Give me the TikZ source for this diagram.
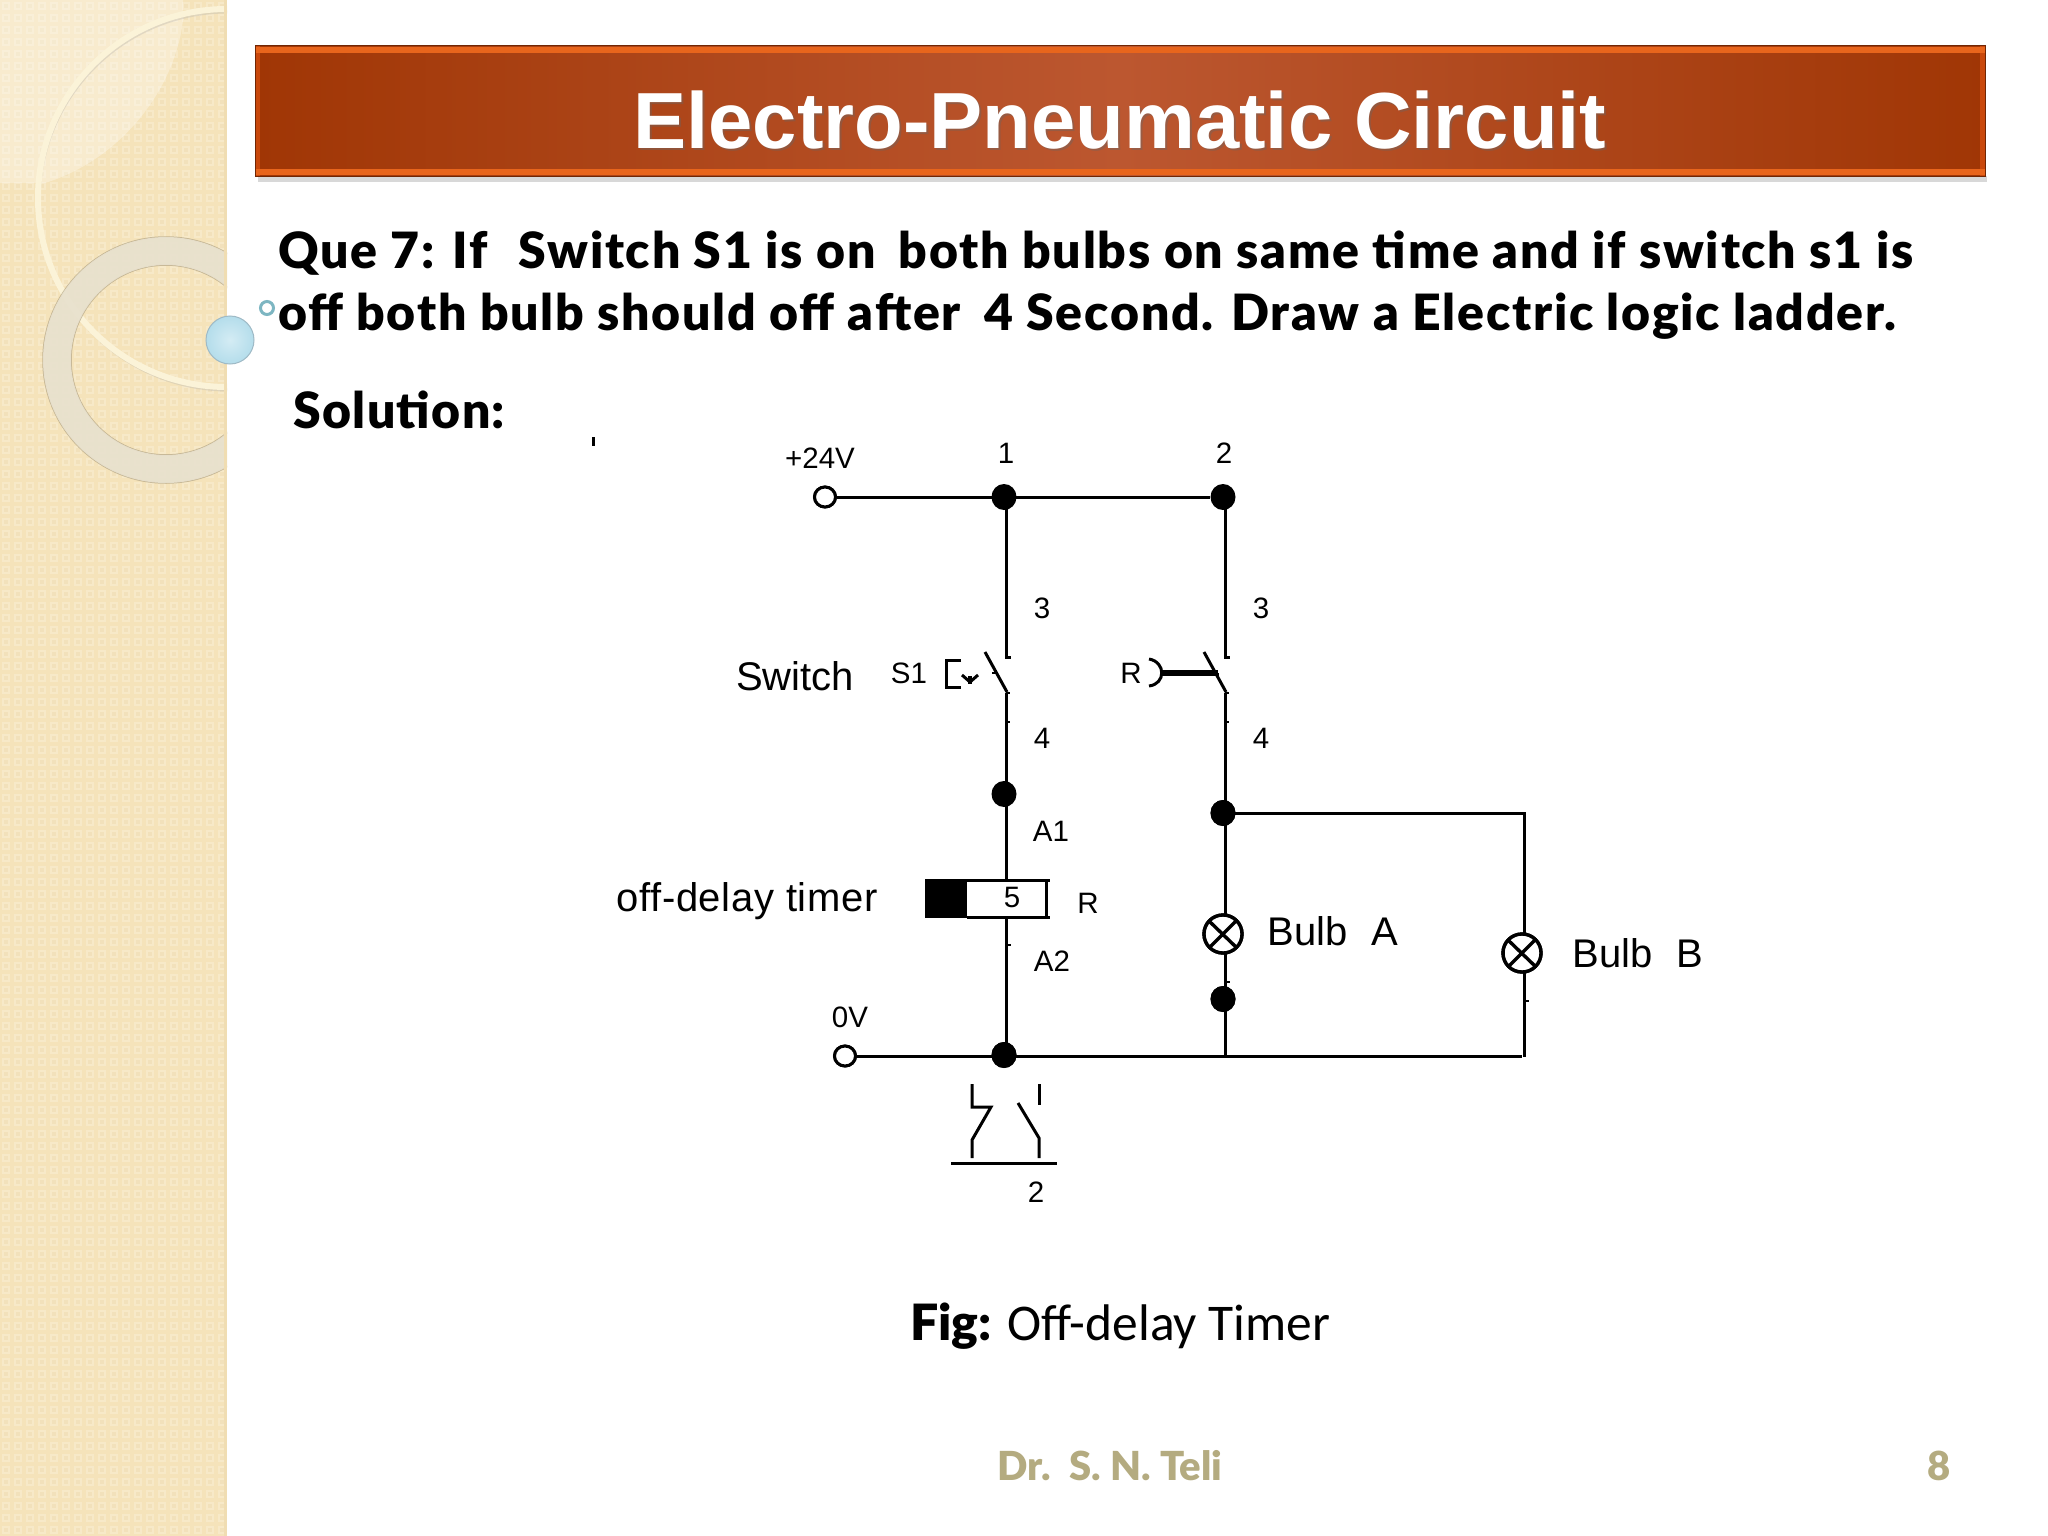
\documentclass[tikz,border=0pt]{standalone}
\usepackage{fontspec}
\setmainfont{Liberation Sans}
\newfontfamily\gill{Carlito}
\newfontfamily\gillb{Lato Black}[LetterSpace=3.5]
\newfontfamily\gillc{Lato Black}[LetterSpace=2.7]
\newfontfamily\gillf{Lato Black}
\usetikzlibrary{calc,shadings,shapes.geometric}
\definecolor{sand}{HTML}{F5E3BA}
\definecolor{sandlt}{HTML}{F7E9C8}
\definecolor{sanddk}{HTML}{EBD7A8}
\definecolor{sandedge}{HTML}{F0DDB2}
\definecolor{ringgray}{HTML}{E8E1CE}
\definecolor{ringcream}{HTML}{FBF3D8}
\definecolor{barmid}{HTML}{BC5730}
\definecolor{bardark}{HTML}{A03605}
\definecolor{barhi}{HTML}{E8651C}
\definecolor{barside}{HTML}{C9480C}
\definecolor{footer}{HTML}{B4AB80}
\tikzset{
  wire/.style={line width=3pt,line cap=butt},
  part/.style={line width=3pt},
  dotn/.style={ellipse,fill=black,inner sep=0pt,minimum width=25pt,minimum height=26pt},
  termn/.style={ellipse,draw=black,line width=3pt,fill=white,inner sep=0pt,minimum width=21pt,minimum height=20pt},
  lampn/.style={circle,draw=black,line width=3.4pt,fill=white,inner sep=0pt,minimum size=38pt},
  lab/.style={inner sep=0pt,font=\fontsize{29.5}{29.5}\selectfont},
  bigl/.style={inner sep=0pt,font=\fontsize{40}{40}\selectfont},
  slide/.style={inner sep=0pt,anchor=base west,font=\gillb\fontsize{50}{50}\selectfont},
}
\begin{document}
\begin{tikzpicture}[x=1pt,y=-1pt]
\useasboundingbox (0,0) rectangle (2048,1536);
\fill[white] (0,0) rectangle (2048,1536);
% side band
\begin{scope}
\clip (0,0) rectangle (227,1536);
\fill[sand] (0,0) rectangle (227,1536);
\foreach \i in {0,...,18}{\foreach \j in {0,...,127}{
  \fill[sandlt] (\i*12+2,\j*12+2) rectangle +(8,8);
  \fill[sanddk,opacity=.4] (\i*12+4,\j*12+4) rectangle +(4,4);
}}
\fill[white,opacity=.3] (0,0) -- (183,0) -- (183,20) .. controls (175,90) and (120,160) .. (45,183) -- (0,183) -- cycle;
\draw[sanddk!60!black!50,line width=3pt,opacity=.45] (228,201) circle (189);
\draw[ringcream,line width=6pt] (227,198) circle (189);
\draw[black!30!sanddk,line width=1.5pt,opacity=.6] (166,360) circle (123) (166,360) circle (95);
\fill[ringgray,even odd rule,opacity=.93] (166,360) circle (123) (166,360) circle (95);
\fill[sandedge] (224,0) rectangle (227,1536);
\end{scope}
% bubbles
\node[circle,inner sep=0pt,minimum size=48pt,draw=cyan!30!gray!70,line width=1pt,inner color={rgb,255:red,212;green,236;blue,244},outer color={rgb,255:red,180;green,221;blue,235}] (bubble) at (230,340) {};
\node[circle,inner sep=0pt,minimum size=13pt,draw={rgb,255:red,125;green,182;blue,194},line width=3pt] (ringb) at (267,308) {};
% title bar
\fill[black!30,opacity=.5] (258,176) rectangle (1987,182);
\fill[left color=bardark,right color=barmid] (255,46) rectangle (1120,176);
\fill[left color=barmid,right color=bardark] (1120,46) rectangle (1985,176);
\fill[barside] (255,46) rectangle (260,176);
\fill[barside] (1980,46) rectangle (1985,176);
\fill[barhi] (255,47) rectangle (1985,53);
\fill[barhi] (255,169) rectangle (1985,175);
\draw[bardark!70!black,line width=1pt] (255,46) rectangle (1985,176);
\node[inner sep=0pt,text=black!60,opacity=.4,font=\bfseries\fontsize{79.6}{79.6}\selectfont] at (1122,122.5) {Electro-Pneumatic Circuit};
\node[inner sep=0pt,text=white,font=\bfseries\fontsize{79.6}{79.6}\selectfont] (title) at (1120,120) {Electro-Pneumatic Circuit};
% question text
\node[slide] (q1) at (278,268) {Que 7: If\hspace{18pt} Switch S1 is on\hspace{10pt} both bulbs on same time and if switch s1 is};
\node[slide] (q2) at (278,330) {off both bulb should off after\hspace{10pt} 4 Second. Draw a Electric logic ladder.};
\node[slide,font=\gillc\fontsize{50}{50}\selectfont] (sol) at (293,428) {Solution:};
\fill[black] (592,437) rectangle (595,446);
% ladder junctions
\node[termn] (plus) at (825,497) {};
\node[dotn] (j1) at (1004,497) {};
\node[dotn] (j2) at (1223,497) {};
\coordinate (s1top) at (1006,657);
\coordinate (s1bot) at (1006,693);
\coordinate (rtop) at (1225,657);
\coordinate (rbot) at (1225,693);
\node[dotn] (j3) at (1004,794) {};
\node[dotn] (j4) at (1223,813) {};
\node[lampn] (lampA) at (1223,934) {};
\node[dotn] (j5) at (1223,999) {};
\node[termn] (minus) at (845,1056) {};
\node[dotn] (j6) at (1004,1055) {};
\node[lampn] (lampB) at (1522,953) {};
\coordinate (cornerT) at (1524,813);
\coordinate (cornerB) at (1524,1057);
\coordinate (railA) at (1225,1057);
% wires
\draw[wire] (plus) -- (1004,497) -- (j2);
\draw[wire] (1006,497) -- (s1top) -- ++(5,0);
\draw[wire] (1225,497) -- (rtop) -- ++(5,0);
\draw[wire] (s1bot) -- (1006,794);
\draw[wire] (rbot) -- (1225,813);
\draw[wire] (1225,813) -- (1225,915);
\draw[wire] (1225,953) -- (1225,1057);
\draw[wire] (j4.center) -- (cornerT) -- (1524,934);
\draw[wire] (1524,972) -- (cornerB);
\draw[wire] (minus.center) -- (railA |- minus.center) -- (1522,1056);
\draw[wire] (1006,794) -- (1006,880);
\draw[wire] (1006,917) -- (1006,1055);
% small ticks on wires
\draw[line width=2.4pt] (1006,693) -- ++(4,0) (1006,722) -- ++(4,0) (1225,693) -- ++(4,0) (1225,722) -- ++(4,0)
  (1006,945) -- ++(5,0) (1225,982) -- ++(5,0) (1524,1001) -- ++(5,0) (1006,628) -- ++(2,0) (1225,592) -- ++(2,0);
% repeated on top of the wires
\node[termn] at (825,497) {};
\node[termn] at (845,1056) {};
\node[lampn] at (1223,934) {};
\node[lampn] at (1522,953) {};
\draw[line width=3.4pt] (1209,921) -- (1237,948) (1237,920) -- (1209,948);
\draw[line width=3.4pt] (1508,940) -- (1536,967) (1536,939) -- (1508,967);
\node[dotn] at (1223,999) {};
\node[dotn] at (1223,813) {};
\node[dotn] at (1004,1055) {};
% switches
\draw[part] (985,652) -- (1007,692);
\draw[part] (1204,652) -- (1226,692);
\draw[line width=2.4pt] (992,673) -- (997,673);
\draw[part] (961,660) -- (946,660) -- (946,687) -- (961,687);
\draw[part] (962,675) -- (970,682) -- (978,675);
\draw[line width=4pt] (970,676) -- (970,684);
\node[lab] (lS1) at (909,673) {S1};
\node[bigl] (lSw) at (795,676) {Switch};
\node[lab] (lR1) at (1131,673) {R};
\draw[part] (1149,659) .. controls (1166,662) and (1166,684) .. (1149,686);
\draw[line width=3.2pt] (1162,671.2) -- (1218,671.2) (1162,674.8) -- (1219,674.8);
% timer
\fill[black] (925,879) rectangle (967,918);
\draw[part] (967,880) -- (1050,880) (967,917) -- (1050,917);
\draw[part] (1046,880) -- (1046,917);
\node[lab] (t5) at (1012,897) {5};
\node[lab] (tR) at (1088,903) {R};
\node[bigl] (tl) at (747,901) {\addfontfeature{LetterSpace=1.6}off-delay timer};
% labels
\node[lab] at (820,458) {+24V};
\node[lab] at (1006,453) {1};
\node[lab] at (1224,453) {2};
\node[lab] at (1042,608) {3};
\node[lab] at (1261,608) {3};
\node[lab] at (1042,738) {4};
\node[lab] at (1261,738) {4};
\node[lab] at (1051,831) {A1};
\node[lab] at (1052,961) {A2};
\node[lab] at (850,1017) {0V};
\node[bigl] at (1333,931) {Bulb\hspace{13pt} A};
\node[bigl] at (1638,953) {Bulb\hspace{13pt} B};
% lower contacts
\draw[part] (972,1084) -- (972,1107) -- (991,1107) -- (972,1140) -- (972,1158);
\draw[part] (1039,1084) -- (1039,1105);
\draw[part] (1018,1103) -- (1039,1138) -- (1039,1158);
\draw[part] (951,1163) -- (1057,1163);
\node[lab] at (1036,1192) {2};
% caption and footer
\node[inner sep=0pt,anchor=base west,font=\gillf\fontsize{50}{50}\selectfont] (fig) at (910,1340) {Fig:};
\node[inner sep=0pt,anchor=base west,font=\gill\fontsize{51.5}{51.5}\selectfont] (figt) at (1007,1340) {Off-delay Timer};
\node[inner sep=0pt,text=footer,font=\gillf\fontsize{40}{40}\selectfont] (foot) at (1110,1466) {Dr.\hspace{6pt} S. N. Teli};
\node[inner sep=0pt,text=footer,font=\gillf\fontsize{40}{40}\selectfont] (num) at (1939,1466) {8};
\end{tikzpicture}
\end{document}
